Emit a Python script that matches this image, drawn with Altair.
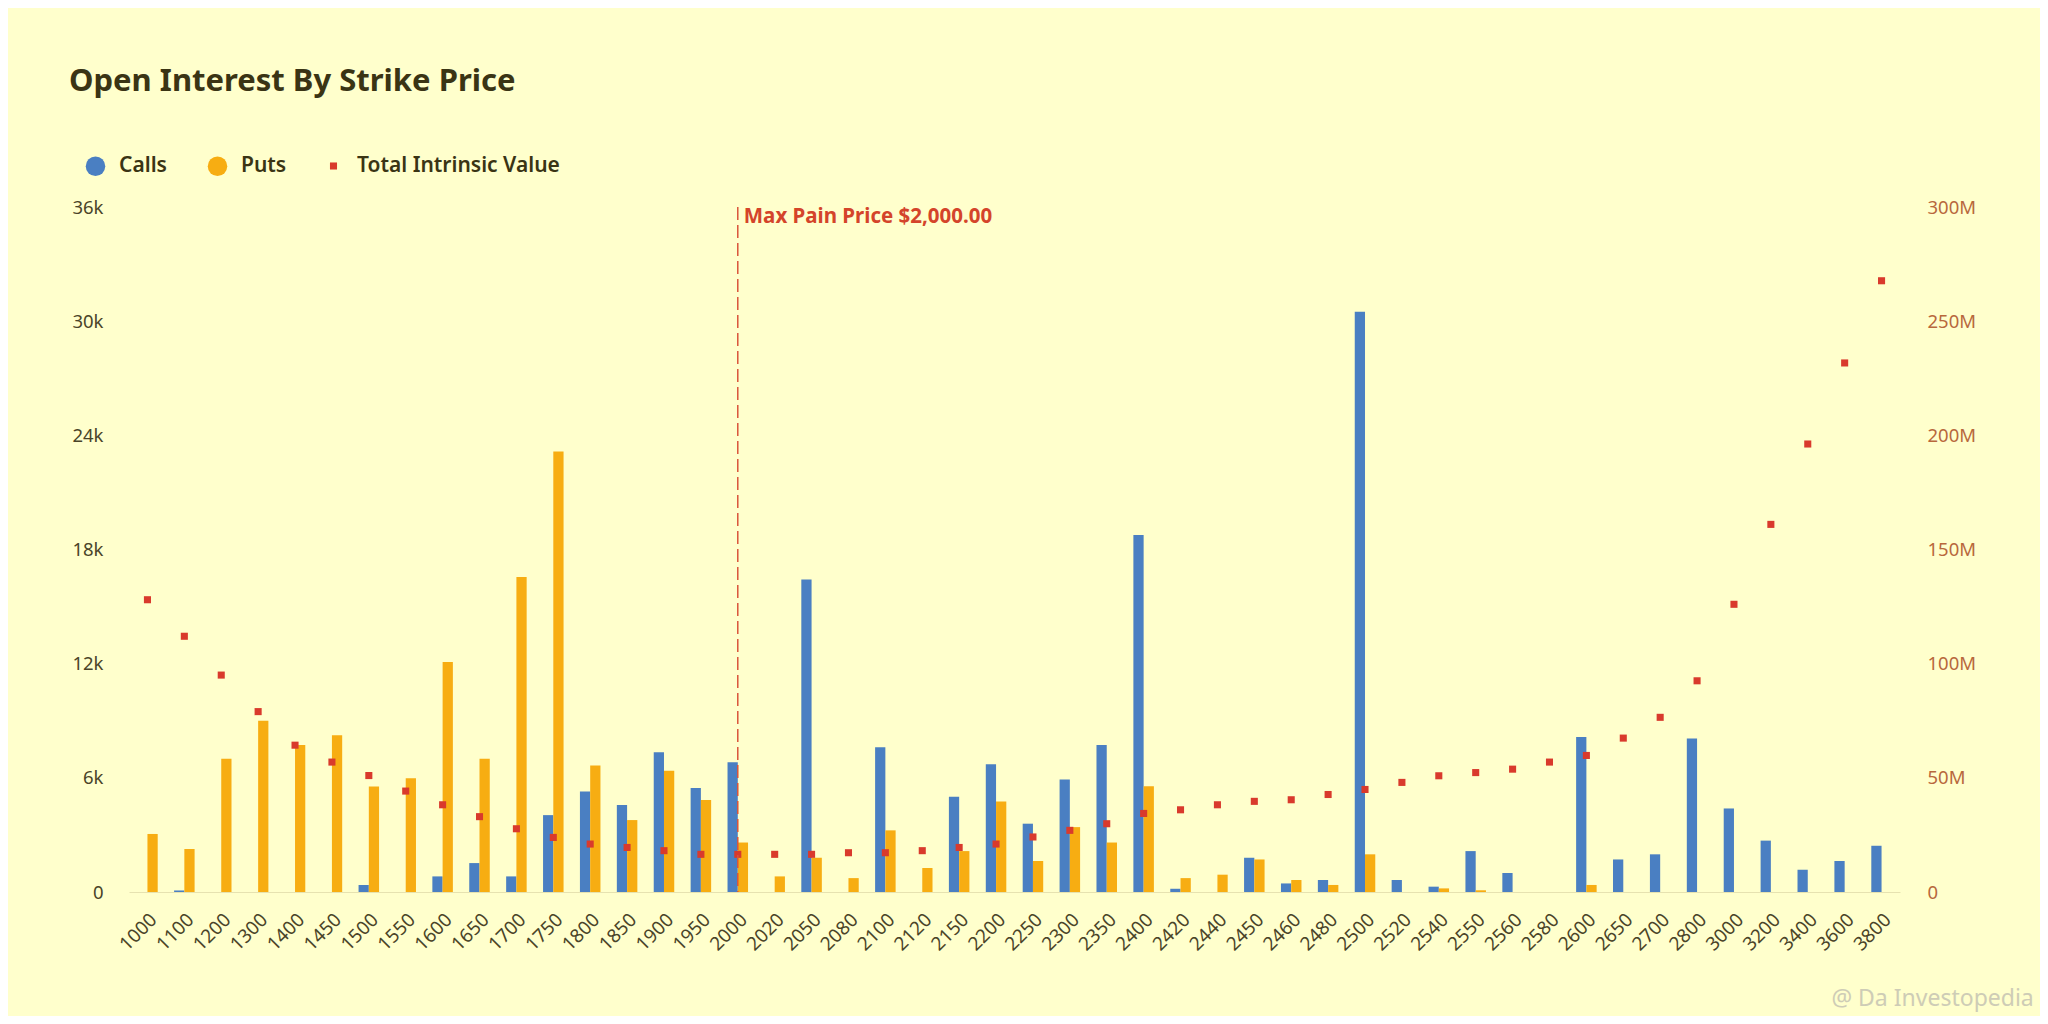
import altair as alt
import pandas as pd

strikes = ["1000","1100","1200","1300","1400","1450","1500","1550","1600","1650",
           "1700","1750","1800","1850","1900","1950","2000","2020","2050","2080",
           "2100","2120","2150","2200","2250","2300","2350","2400","2420","2440",
           "2450","2460","2480","2500","2520","2540","2550","2560","2580","2600",
           "2650","2700","2800","3000","3200","3400","3600","3800"]

calls = [0, 80, 0, 0, 0, 0, 370, 0, 820, 1520,
         820, 4040, 5280, 4570, 7350, 5460, 6820, 0, 16420, 0,
         7610, 0, 5000, 6720, 3590, 5910, 7720, 18760, 170, 0,
         1800, 450, 630, 30500, 630, 280, 2150, 1000, 0, 8150,
         1710, 1980, 8070, 4390, 2700, 1170, 1630, 2430]

puts = [3050, 2260, 7000, 9000, 7720, 8240, 5550, 5980, 12090, 7000,
        16560, 23150, 6650, 3780, 6370, 4830, 2600, 820, 1800, 730,
        3240, 1260, 2150, 4760, 1630, 3410, 2600, 5560, 730, 910,
        1710, 630, 370, 1980, 0, 190, 90, 0, 0, 370,
        0, 0, 0, 0, 0, 0, 0, 0]

# Total intrinsic value, millions
tiv_m = [128, 112, 95, 79, 64.3, 56.9, 51, 44.2, 38.2, 33,
         27.7, 23.9, 21, 19.5, 18.1, 16.5, 16.5, 16.5, 16.5, 17.2,
         17.2, 18.1, 19.5, 21, 24.1, 27, 29.9, 34.4, 36, 38.2,
         39.7, 40.4, 42.7, 44.9, 48, 50.9, 52.3, 53.8, 56.9, 59.8,
         67.4, 76.5, 92.5, 126, 161, 196.2, 231.7, 267.7]

max_pain_strike = "2000"
max_pain_label = "Max Pain Price $2,000.00"

BG = "#FFFFCC"
BLUE = "#4A7FC2"
ORANGE = "#F7AD12"
RED = "#D93A2C"
DARK = "#3A3414"
AXIS_DARK = "#4A4428"
AXIS_RIGHT = "#B8683C"

bars = pd.DataFrame(
    [{"strike": s, "type": "Calls", "oi": c} for s, c in zip(strikes, calls)] +
    [{"strike": s, "type": "Puts", "oi": p} for s, p in zip(strikes, puts)]
)
tiv = pd.DataFrame({"strike": strikes,
                    "tiv": [v * 1e6 for v in tiv_m],
                    "series": "Total Intrinsic Value"})
mp = pd.DataFrame({"strike": [max_pain_strike], "label": [max_pain_label]})

W, H = 1771, 685

xenc = alt.X("strike:N", sort=strikes,
             scale=alt.Scale(paddingInner=0.444, paddingOuter=0.222),
             axis=alt.Axis(title=None, labelAngle=-45, ticks=False,
                           domain=True, domainColor="#E6E2B0", domainWidth=1,
                           labelFontSize=19, labelColor=AXIS_DARK, labelPadding=18))

bar_layer = alt.Chart(bars).mark_bar().encode(
    x=xenc,
    xOffset=alt.XOffset("type:N", sort=["Calls", "Puts"]),
    y=alt.Y("oi:Q", scale=alt.Scale(domain=[0, 36000]),
            axis=alt.Axis(title=None, orient="left", values=list(range(0, 36001, 6000)),
                          labelExpr="datum.value == 0 ? '0' : (datum.value / 1000) + 'k'",
                          grid=False, ticks=False, domain=False,
                          labelFontSize=18.5, labelColor=AXIS_DARK, labelPadding=26)),
    color=alt.Color("type:N",
                    scale=alt.Scale(domain=["Calls", "Puts"], range=[BLUE, ORANGE]),
                    legend=alt.Legend(title=None, orient="none", legendX=-44, legendY=-51.5,
                                      direction="horizontal", symbolType="circle",
                                      symbolSize=380, symbolStrokeWidth=0,
                                      labelFontSize=21, labelFontWeight=600, labelLimit=400,
                                      labelColor=DARK, labelOffset=13, columnPadding=40)),
)

dot_layer = alt.Chart(tiv).mark_point(filled=True, size=50, color=RED, opacity=1).encode(
    x=alt.X("strike:N", sort=strikes),
    y=alt.Y("tiv:Q", scale=alt.Scale(domain=[0, 300e6]),
            axis=alt.Axis(title=None, orient="right",
                          values=[i * 50e6 for i in range(7)],
                          labelExpr="datum.value == 0 ? '0' : round(datum.value / 1e6) + 'M'",
                          grid=False, ticks=False, domain=False,
                          labelFontSize=18.5, labelColor=AXIS_RIGHT, labelPadding=27)),
    shape=alt.Shape("series:N",
                    scale=alt.Scale(domain=["Total Intrinsic Value"], range=["square"]),
                    legend=alt.Legend(title=None, orient="none", legendX=194, legendY=-51.5,
                                      direction="horizontal", symbolSize=50,
                                      symbolFillColor=RED, symbolStrokeWidth=0,
                                      labelFontSize=21, labelFontWeight=600, labelLimit=400,
                                      labelColor=DARK, labelOffset=13)),
)

rule_layer = alt.Chart(mp).mark_rule(color="#D9553A", strokeDash=[13, 5], strokeWidth=1.5).encode(
    x=alt.X("strike:N", sort=strikes),
    y=alt.value(0),
    y2=alt.value(H),
)

text_layer = alt.Chart(mp).mark_text(align="left", baseline="middle", dx=6,
                                     fontSize=20.5, fontWeight="bold", color="#D4442A").encode(
    x=alt.X("strike:N", sort=strikes),
    y=alt.value(10),
    text="label:N",
)

wm = pd.DataFrame({"t": ["@ Da Investopedia"]})
wm_layer = alt.Chart(wm).mark_text(align="left", baseline="middle", fontSize=23,
                                   color="#C9C7B4", opacity=0.9).encode(
    x=alt.value(1831 - 128.6),
    y=alt.value(999 - 207),
    text="t:N",
)

chart = alt.layer(bar_layer, dot_layer, rule_layer, text_layer, wm_layer).resolve_scale(
    y="independent"
).properties(
    width=W, height=H,
    autosize=alt.AutoSizeParams(type="none"),
    padding={"left": 121, "top": 199, "right": 140, "bottom": 124},
    background=BG,
    title=alt.TitleParams("Open Interest By Strike Price", anchor="start", frame="group",
                          fontSize=31, fontWeight="bold", color=DARK,
                          dx=-60, offset=58),
).configure(font="Noto Sans").configure_view(stroke=None)

chart.save("out.html", embed_options={"renderer": "svg", "actions": False})
